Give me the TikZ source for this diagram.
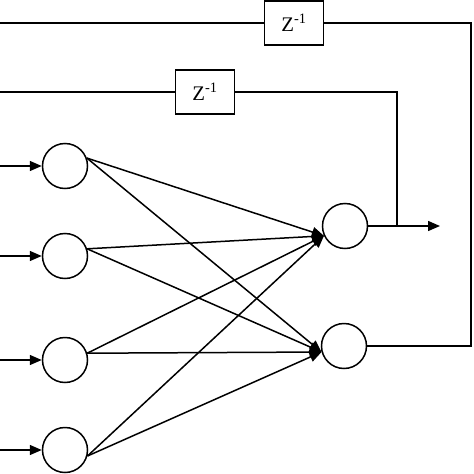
\documentclass[tikz,border=0pt]{standalone}
\usepackage{fontspec}
\setmainfont{Liberation Serif}
\usetikzlibrary{arrows.meta}

\newcommand{\delaytext}{Z\textsuperscript{-1}}

\tikzset{
  neuron/.style={circle,draw,line width=1.5pt,minimum size=45pt,inner sep=0pt},
  delay/.style={rectangle,draw,line width=1.5pt,minimum width=59pt,minimum height=44pt,
    font=\huge},
  wire/.style={line width=1.5pt},
  feed/.style={wire,-{Triangle[length=12pt,width=10pt]}},
}

\begin{document}
\begin{tikzpicture}[x=1pt,y=-1pt]
\useasboundingbox (0,0) rectangle (474,474);
% input layer
\node[neuron] (in1) at (65,166) {};
\node[neuron] (in2) at (65,256) {};
\node[neuron] (in3) at (65,360) {};
\node[neuron] (in4) at (65,450) {};
% output layer
\node[neuron] (out1) at (345,226) {};
\node[neuron] (out2) at (344,346) {};
% unit delays
\node[delay] (zin) at (205,92) {\delaytext};
\node[delay] (zout) at (294,23) {\delaytext};
% free ends
\coordinate (src1) at (0,166);
\coordinate (src2) at (0,256);
\coordinate (src3) at (0,360);
\coordinate (src4) at (0,450);
\coordinate (res) at (440,226);
\coordinate (tap) at (397,226);
\coordinate (back1) at (0,92);
\coordinate (corner) at (471,23);
\coordinate (back2) at (0,23);

\draw[feed] (src1) -- (in1);
\draw[feed] (src2) -- (in2);
\draw[feed] (src3) -- (in3);
\draw[feed] (src4) -- (in4);

\draw[feed] (in1.20) -- (out1.205);
\draw[feed] (in1.20) -- (out2.195);
\draw[feed] (in2.18) -- (out1.205);
\draw[feed] (in2.18) -- (out2.195);
\draw[feed] (in3.17) -- (out1.205);
\draw[feed] (in3.17) -- (out2.195);
\draw[feed] (in4.-15) -- (out1.205);
\draw[feed] (in4.-15) -- (out2.195);

\draw[feed] (out1) -- (res);
% context loops
\draw[wire] (tap) |- (zin.east);
\draw[wire] (zin.west) -- (back1);
\draw[wire] (out2.east) -| (corner) -- (zout.east);
\draw[wire] (zout.west) -- (back2);
\end{tikzpicture}
\end{document}
